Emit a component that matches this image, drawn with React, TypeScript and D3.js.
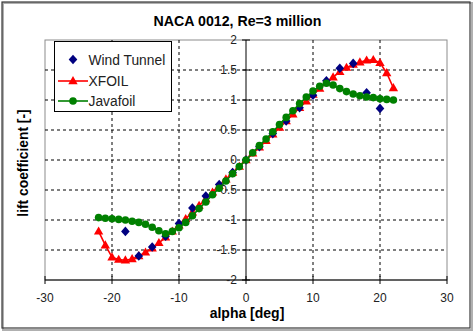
import React from "react";
import * as d3 from "d3";

const title = "NACA 0012, Re=3 million";
const xTicks = [-30, -20, -10, 0, 10, 20, 30];
const yTicks = [-2, -1.5, -1, -0.5, 0, 0.5, 1, 1.5, 2];

const windAlpha = [-18, -16, -14, -12, -10, -8, -6, -4, -2, 0, 2, 4, 6, 8, 10, 12, 14, 16, 18, 20];
const windCL = [-1.19, -1.6, -1.45, -1.27, -1.06, -0.8, -0.6, -0.41, -0.21, 0, 0.22, 0.44, 0.65, 0.87, 1.08, 1.32, 1.53, 1.61, 1.12, 0.86];

const xfoilAlpha = [-22, -21, -20, -19, -18, -17, -16, -15, -14, -13, -12, -11, -10, -9, -8, -7, -6, -5, -4, -3, -2, -1, 0, 1, 2, 3, 4, 5, 6, 7, 8, 9, 10, 11, 12, 13, 14, 15, 16, 17, 18, 19, 20, 21, 22];
const xfoilCL = [-1.19, -1.42, -1.62, -1.66, -1.67, -1.65, -1.6, -1.54, -1.47, -1.38, -1.29, -1.19, -1.09, -0.98, -0.87, -0.76, -0.65, -0.54, -0.43, -0.32, -0.21, -0.11, 0, 0.11, 0.21, 0.32, 0.43, 0.54, 0.65, 0.76, 0.87, 0.98, 1.09, 1.19, 1.29, 1.38, 1.47, 1.54, 1.59, 1.63, 1.66, 1.67, 1.62, 1.45, 1.2];

const javaAlpha = [-22, -21, -20, -19, -18, -17, -16, -15, -14, -13, -12, -11, -10, -9, -8, -7, -6, -5, -4, -3, -2, -1, 0, 1, 2, 3, 4, 5, 6, 7, 8, 9, 10, 11, 12, 13, 14, 15, 16, 17, 18, 19, 20, 21, 22];
const javaCL = [-0.96, -0.97, -0.98, -0.99, -1.0, -1.02, -1.04, -1.07, -1.12, -1.18, -1.23, -1.19, -1.13, -1.04, -0.93, -0.81, -0.7, -0.58, -0.47, -0.35, -0.23, -0.11, 0, 0.12, 0.24, 0.35, 0.47, 0.59, 0.71, 0.82, 0.94, 1.05, 1.15, 1.23, 1.28, 1.25, 1.19, 1.14, 1.1, 1.07, 1.05, 1.04, 1.02, 1.01, 1.0];

const legendLabels = ["Wind Tunnel", "XFOIL", "Javafoil"];

const W = 474, H = 333;
const L = 45, R = 447, T = 40, B = 280;
const FONT = "Liberation Sans, Arial, sans-serif";

export default function App() {
  const x = d3.scaleLinear().domain([-30, 30]).range([L, R]);
  const y = d3.scaleLinear().domain([-2, 2]).range([B, T]);
  const line = d3.line<[number, number]>().x(d => x(d[0])).y(d => y(d[1]));
  const xfoil: [number, number][] = xfoilAlpha.map((a, i) => [a, xfoilCL[i]]);
  const java: [number, number][] = javaAlpha.map((a, i) => [a, javaCL[i]]);
  const wind: [number, number][] = windAlpha.map((a, i) => [a, windCL[i]]);
  const tri = d3.symbol().type(d3.symbolTriangle).size(38)() as string;
  const dia = (cx: number, cy: number) => `M${cx},${cy - 4.8}L${cx + 4.3},${cy}L${cx},${cy + 4.8}L${cx - 4.3},${cy}Z`;
  const x0 = x(0);
  const legY = [59.5, 81, 101];

  return (
    <svg width={W} height={H} style={{ display: "block", position: "absolute", left: 0, top: 0 }} fontFamily={FONT}>
      <rect x={0} y={0} width={W} height={H} fill="#fff" />
      <rect x={3} y={3} width={469} height={327} fill="#fff" stroke="#b0b0b0" strokeWidth={2} />
      <rect x={2} y={2} width={468} height={326} fill="none" stroke="#3a3a3a" strokeWidth={1.2} />
      <text x={237.5} y={26} textAnchor="middle" fontSize={14.2} fontWeight="bold" fill="#000">{title}</text>

      <rect x={L} y={T} width={R - L} height={B - T} fill="#fff" stroke="#8c8c8c" strokeWidth={1} />
      {xTicks.filter(t => t !== 0 && t !== -30 && t !== 30).map(t => (
        <line key={"gx" + t} x1={x(t)} x2={x(t)} y1={T} y2={B} stroke="#000" strokeWidth={1} strokeDasharray="3,3" />
      ))}
      {yTicks.filter(t => t !== -2 && t !== 2).map(t => (
        <line key={"gy" + t} x1={L} x2={R} y1={y(t)} y2={y(t)} stroke="#000" strokeWidth={1} strokeDasharray="3,3" />
      ))}
      <line x1={x0} x2={x0} y1={T} y2={B} stroke="#000" strokeWidth={1} />
      <line x1={L} x2={R} y1={B} y2={B} stroke="#000" strokeWidth={1} />
      {yTicks.map(t => (
        <g key={"ty" + t}>
          <line x1={x0 - 4} x2={x0 + 4} y1={y(t)} y2={y(t)} stroke="#000" />
          <text x={x0 - 9} y={y(t) + 4} textAnchor="end" fontSize={12} fill="#222">{String(t)}</text>
        </g>
      ))}
      {xTicks.map(t => (
        <g key={"tx" + t}>
          <line x1={x(t)} x2={x(t)} y1={B - 4} y2={B + 4} stroke="#000" />
          <text x={x(t)} y={B + 22} textAnchor="middle" fontSize={12} fill="#222">{String(t)}</text>
        </g>
      ))}
      <text x={247} y={318} textAnchor="middle" fontSize={14} fontWeight="bold" fill="#000">alpha [deg]</text>
      <text transform={`translate(28,163) rotate(-90)`} textAnchor="middle" fontSize={13.8} fontWeight="bold" fill="#000">lift coefficient [-]</text>

      <path d={line(xfoil) as string} fill="none" stroke="#ff0000" strokeWidth={1.6} />
      {xfoil.map((d, i) => (
        <path key={"xf" + i} d={tri} transform={`translate(${x(d[0])},${y(d[1]) + 0.5})`} fill="#ff0000" />
      ))}
      {wind.map((d, i) => (
        <path key={"wt" + i} d={dia(x(d[0]), y(d[1]))} fill="#000080" />
      ))}
      <path d={line(java) as string} fill="none" stroke="#008000" strokeWidth={1.6} />
      {java.map((d, i) => (
        <circle key={"jf" + i} cx={x(d[0])} cy={y(d[1])} r={3.8} fill="#008000" />
      ))}

      <rect x={54.5} y={41.5} width={117} height={70} fill="#fff" stroke="#000" strokeWidth={1} />
      <path d={dia(73, legY[0])} fill="#000080" />
      <line x1={58} x2={88} y1={legY[1]} y2={legY[1]} stroke="#ff0000" strokeWidth={1.6} />
      <path d={tri} transform={`translate(73,${legY[1] + 0.5})`} fill="#ff0000" />
      <line x1={58} x2={88} y1={legY[2]} y2={legY[2]} stroke="#008000" strokeWidth={1.6} />
      <circle cx={73} cy={legY[2]} r={3.8} fill="#008000" />
      {legendLabels.map((s, i) => (
        <text key={s} x={88.5} y={legY[i] + 5} fontSize={13.8} fill="#222">{s}</text>
      ))}
    </svg>
  );
}
